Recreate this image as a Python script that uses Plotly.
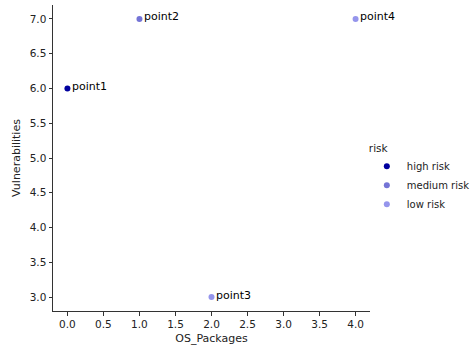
import plotly.graph_objects as go

labels = ["point1", "point2", "point3", "point4"]
os_packages = [0, 1, 2, 4]
vulnerabilities = [6, 7, 3, 7]
risk = ["high risk", "medium risk", "low risk", "low risk"]
risk_order = ["high risk", "medium risk", "low risk"]
risk_colors = {"high risk": "#00009e", "medium risk": "#7474d6", "low risk": "#9595ec"}

fig = go.Figure()
for r in risk_order:
    xs = [x for x, rr in zip(os_packages, risk) if rr == r]
    ys = [y for y, rr in zip(vulnerabilities, risk) if rr == r]
    fig.add_trace(go.Scatter(x=xs, y=ys, mode="markers", name=r,
                             marker=dict(color=risk_colors[r], size=6, line=dict(width=0))))

for lab, x, y in zip(labels, os_packages, vulnerabilities):
    fig.add_annotation(x=x, y=y, text=lab, xref="x", yref="y", showarrow=False,
                       xanchor="left", yanchor="middle", xshift=2.5, yshift=2,
                       font=dict(size=11, color="#000000", family="DejaVu Sans"))

axis_common = dict(showgrid=False, zeroline=False, showline=True, linecolor="#333333",
                   linewidth=1, ticks="outside", ticklen=3.5, tickwidth=0.8, tickcolor="#333333",
                   tickfont=dict(size=10.5, color="#222222", family="DejaVu Sans"), mirror=False)

fig.update_xaxes(range=[-0.2, 4.2], tickmode="array",
                 tickvals=[0, 0.5, 1, 1.5, 2, 2.5, 3, 3.5, 4],
                 ticktext=["0.0", "0.5", "1.0", "1.5", "2.0", "2.5", "3.0", "3.5", "4.0"],
                 title=dict(text="OS_Packages", font=dict(size=11, color="#222222", family="DejaVu Sans"), standoff=5),
                 **axis_common)
fig.update_yaxes(range=[2.8, 7.2], tickmode="array",
                 tickvals=[3, 3.5, 4, 4.5, 5, 5.5, 6, 6.5, 7],
                 ticktext=["3.0", "3.5", "4.0", "4.5", "5.0", "5.5", "6.0", "6.5", "7.0"],
                 title=dict(text="Vulnerabilities", font=dict(size=11, color="#222222", family="DejaVu Sans"), standoff=6),
                 **axis_common)

fig.update_layout(
    width=474, height=351,
    margin=dict(l=53, r=104, t=5, b=40, autoexpand=False),
    plot_bgcolor="white", paper_bgcolor="white",
    font=dict(family="DejaVu Sans", size=10, color="#222222"),
    legend=dict(title=dict(text="risk", font=dict(size=10.5)), x=0.99, y=0.565, xanchor="left", yanchor="top",
                font=dict(size=10), tracegroupgap=0, itemwidth=30, bgcolor="rgba(0,0,0,0)"),
)

fig.write_html("out.html")
